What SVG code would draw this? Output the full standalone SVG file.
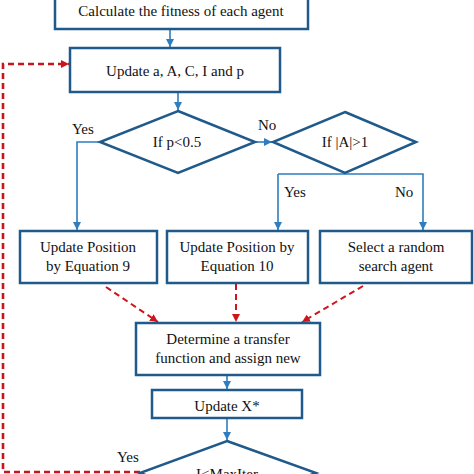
<svg xmlns="http://www.w3.org/2000/svg" width="474" height="474" viewBox="0 0 474 474">
<defs>
<style>
.box{fill:#fff;stroke:#1f5a8a;stroke-width:2.5}
.t{font-family:"Liberation Serif","DejaVu Serif","Times New Roman",Times,serif;font-size:15px;fill:#111;text-anchor:middle}
.lb{font-family:"Liberation Serif","DejaVu Serif","Times New Roman",Times,serif;font-size:15px;fill:#111}
.b{fill:none;stroke:#2e7dbf;stroke-width:1.6}
.r{fill:none;stroke:#d0141c;stroke-width:2;stroke-dasharray:6 4}
.rl{fill:none;stroke:#c8141c;stroke-width:2.6;stroke-dasharray:6 4}
</style>
<marker id="ab" markerWidth="10" markerHeight="10" refX="8" refY="5" orient="auto" markerUnits="userSpaceOnUse"><path d="M0,1 L8,5 L0,9 Z" fill="#2e7dbf"/></marker>
<marker id="ar" markerWidth="10" markerHeight="10" refX="8" refY="5" orient="auto" markerUnits="userSpaceOnUse"><path d="M0,1 L8,5 L0,9 Z" fill="#d0141c"/></marker>
</defs>
<rect width="474" height="474" fill="#fff"/>
<g id="connectors">
<path class="b" d="M170,29 V47" marker-end="url(#ab)"/>
<path class="b" d="M178,92 V110" marker-end="url(#ab)"/>
<path class="b" d="M255,142 H272" marker-end="url(#ab)"/>
<path class="b" d="M100,142 H77 V230" marker-end="url(#ab)"/>
<path class="b" d="M278,174 H423 V230" marker-end="url(#ab)"/>
<path class="b" d="M278,174 V230" marker-end="url(#ab)"/>
<path class="b" d="M227,375 V389" marker-end="url(#ab)"/>
<path class="b" d="M227,418 V440" marker-end="url(#ab)"/>
<path class="r" d="M106,287 L158,322" marker-end="url(#ar)"/>
<path class="r" d="M236,284 V322" marker-end="url(#ar)"/>
<path class="r" d="M363,286 L302,322" marker-end="url(#ar)"/>
<path class="rl" d="M140,472 H3 V64 H69" marker-end="url(#ar)"/>
<text class="lb" x="72" y="134">Yes</text>
<text class="lb" x="258" y="130">No</text>
<text class="lb" x="284" y="197">Yes</text>
<text class="lb" x="395" y="197">No</text>
<text class="lb" x="117" y="462">Yes</text>
</g>
<g id="calc"><rect class="box" x="55" y="-4" width="253" height="33"/><text class="t" x="181" y="16">Calculate the fitness of each agent</text></g>
<g id="update1"><rect class="box" x="70" y="48" width="210" height="44"/><text class="t" x="175" y="76">Update a, A, C, I and p</text></g>
<g id="d1"><polygon class="box" points="178,111 255,142 178,173 100,142"/><text class="t" x="177" y="147">If p&lt;0.5</text></g>
<g id="d2"><polygon class="box" points="345,112 416,142 345,173 273,142"/><text class="t" x="345" y="147">If |A|&gt;1</text></g>
<g id="eq9"><rect class="box" x="20" y="231" width="137" height="52"/><text class="t" x="88" y="252">Update Position</text><text class="t" x="88" y="271">by Equation 9</text></g>
<g id="eq10"><rect class="box" x="167" y="231" width="141" height="52"/><text class="t" x="237" y="252">Update Position by</text><text class="t" x="237" y="271">Equation 10</text></g>
<g id="rand"><rect class="box" x="320" y="231" width="152" height="52"/><text class="t" x="396" y="252">Select a random</text><text class="t" x="396" y="271">search agent</text></g>
<g id="transfer"><rect class="box" x="136" y="323" width="184" height="52"/><text class="t" x="228" y="344">Determine a transfer</text><text class="t" x="228" y="363">function and assign new</text></g>
<g id="updx"><rect class="box" x="152" y="390" width="150" height="28"/><text class="t" x="227" y="411">Update X*</text></g>
<g id="d3"><polygon class="box" points="227,441 316,473 227,505 140,473"/><text class="t" x="227" y="479">I&lt;MaxIter</text></g>
</svg>
